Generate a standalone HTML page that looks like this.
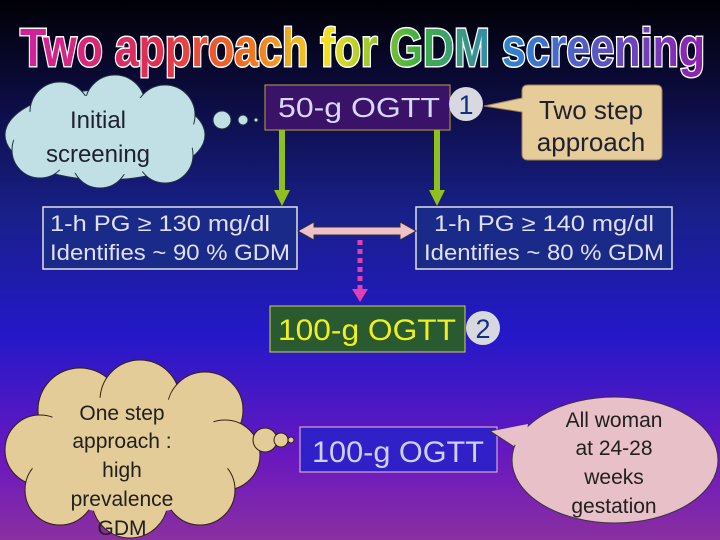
<!DOCTYPE html>
<html><head><meta charset="utf-8"><style>
html,body{margin:0;padding:0;width:720px;height:540px;overflow:hidden}
svg{display:block}
</style></head><body>
<svg width="720" height="540" viewBox="0 0 720 540" xmlns="http://www.w3.org/2000/svg" font-family="Liberation Sans, sans-serif">
<defs>
<linearGradient id="bg" x1="0" y1="0" x2="0" y2="1">
<stop offset="0" stop-color="#000005"/>
<stop offset="0.18" stop-color="#0c0c40"/>
<stop offset="0.4" stop-color="#18208a"/>
<stop offset="0.62" stop-color="#2418c8"/>
<stop offset="0.85" stop-color="#6a18c0"/>
<stop offset="1" stop-color="#8a30a0"/>
</linearGradient>
<linearGradient id="title" x1="0" y1="0" x2="1" y2="0">
<stop offset="0" stop-color="#d020a0"/>
<stop offset="0.2" stop-color="#e03050"/>
<stop offset="0.33" stop-color="#f07020"/>
<stop offset="0.45" stop-color="#f0e020"/>
<stop offset="0.58" stop-color="#40b040"/>
<stop offset="0.72" stop-color="#3080d0"/>
<stop offset="1" stop-color="#9020b0"/>
</linearGradient>
</defs>
<rect width="720" height="540" fill="url(#bg)"/>
<text x="20" y="66" font-size="54" font-weight="bold" textLength="685" lengthAdjust="spacingAndGlyphs" fill="url(#title)" stroke="#ffffff" stroke-width="3" paint-order="stroke">Two approach for GDM screening</text>

<!-- Initial screening cloud -->
<g fill="#c0e0e6" stroke="#203040" stroke-width="1">
<ellipse cx="105" cy="135" rx="100" ry="45"/>
<circle cx="60" cy="112" r="30"/><circle cx="115" cy="105" r="30"/><circle cx="165" cy="115" r="30"/>
<circle cx="40" cy="150" r="28"/><circle cx="100" cy="160" r="28"/><circle cx="165" cy="155" r="28"/>
<circle cx="222" cy="120" r="9"/><circle cx="243" cy="120" r="5"/><circle cx="256" cy="120" r="2"/>
</g>
<ellipse cx="105" cy="135" rx="92" ry="40" fill="#c0e0e6"/>
<text x="98" y="128" font-size="24" fill="#202030" text-anchor="middle">Initial</text>
<text x="98" y="162" font-size="24" fill="#202030" text-anchor="middle">screening</text>

<!-- 50-g OGTT -->
<rect x="265" y="85" width="185" height="45" fill="#3a1268" stroke="#c0a040" stroke-width="1"/>
<text x="359" y="117" font-size="28" fill="#d8d8ff" text-anchor="middle" textLength="162" lengthAdjust="spacingAndGlyphs">50-g OGTT</text>
<circle cx="466" cy="104" r="17" fill="#d8d8e0"/>
<text x="466" y="114" font-size="27" fill="#103080" text-anchor="middle">1</text>

<!-- Two step callout -->
<path d="M528 85 H656 Q662 85 662 91 V154 Q662 160 656 160 H528 Q522 160 522 154 V112 L484 106 L522 98 V91 Q522 85 528 85Z" fill="#e6cc98" stroke="#a08050"/>
<text x="591" y="119" font-size="26" fill="#202030" text-anchor="middle">Two step</text>
<text x="591" y="151" font-size="26" fill="#202030" text-anchor="middle">approach</text>

<!-- green arrows -->
<g fill="#90c020">
<rect x="279" y="130" width="6" height="62"/><polygon points="274,190 290,190 282,206"/>
<rect x="434" y="130" width="6" height="62"/><polygon points="429,190 445,190 437,206"/>
</g>

<!-- PG boxes -->
<rect x="43" y="207" width="254" height="62" fill="#1a2a88" stroke="#e0e0e0" stroke-width="1.5"/>
<text x="50" y="231" font-size="22" fill="#e0e0f0" textLength="220" lengthAdjust="spacingAndGlyphs">1-h PG ≥ 130 mg/dl</text>
<text x="50" y="260" font-size="22" fill="#e0e0f0" textLength="240" lengthAdjust="spacingAndGlyphs">Identifies ~ 90 % GDM</text>
<rect x="416" y="207" width="256" height="62" fill="#1a2a88" stroke="#e0e0e0" stroke-width="1.5"/>
<text x="544" y="231" font-size="22" fill="#e0e0f0" text-anchor="middle" textLength="220" lengthAdjust="spacingAndGlyphs">1-h PG ≥ 140 mg/dl</text>
<text x="544" y="260" font-size="22" fill="#e0e0f0" text-anchor="middle" textLength="240" lengthAdjust="spacingAndGlyphs">Identifies ~ 80 % GDM</text>

<!-- double arrow -->
<polygon points="298,231 314,222 314,227 400,227 400,222 416,231 400,240 400,235 314,235 314,240" fill="#f0c0c8" stroke="#303030"/>
<!-- dotted arrow -->
<line x1="360" y1="240" x2="360" y2="290" stroke="#e040b0" stroke-width="5" stroke-dasharray="5,4"/>
<polygon points="352,289 368,289 360,302" fill="#e040b0"/>

<!-- 100-g OGTT green -->
<rect x="270" y="306" width="195" height="46" fill="#2a5a30" stroke="#d0d060"/>
<text x="367" y="340" font-size="30" fill="#f0f020" text-anchor="middle" textLength="178" lengthAdjust="spacingAndGlyphs">100-g OGTT</text>
<circle cx="483" cy="328" r="17" fill="#d8d8e0"/>
<text x="483" y="338" font-size="27" fill="#103080" text-anchor="middle">2</text>

<!-- bottom-left tan cloud -->
<g fill="#e4cc98" stroke="#302010" stroke-width="1">
<circle cx="80" cy="410" r="42"/><circle cx="140" cy="400" r="40"/><circle cx="205" cy="410" r="38"/>
<circle cx="40" cy="450" r="35"/><circle cx="225" cy="455" r="35"/>
<circle cx="60" cy="490" r="35"/><circle cx="130" cy="500" r="38"/><circle cx="200" cy="490" r="35"/>
<circle cx="265" cy="440" r="12"/><circle cx="281" cy="440" r="7"/><circle cx="291" cy="440" r="3"/>
</g>
<ellipse cx="130" cy="455" rx="100" ry="60" fill="#e4cc98"/>
<g font-size="21" fill="#202020" text-anchor="middle">
<text x="122" y="420">One step</text>
<text x="122" y="448">approach :</text>
<text x="122" y="477">high</text>
<text x="122" y="506">prevalence</text>
<text x="122" y="535">GDM</text>
</g>

<!-- 100-g OGTT blue -->
<rect x="300" y="427" width="197" height="45" fill="#3020c8" stroke="#f0c0d0"/>
<text x="398" y="462" font-size="30" fill="#d0d0ff" text-anchor="middle" textLength="172" lengthAdjust="spacingAndGlyphs">100-g OGTT</text>

<!-- pink oval -->
<path d="M530 425 L490 431 L522 452Z" fill="#e8c0c8" stroke="#403040"/>
<ellipse cx="615" cy="460" rx="103" ry="63" fill="#e8c0c8" stroke="#403040"/>
<path d="M528 424 L492 431 L524 450Z" fill="#e8c0c8"/>
<g font-size="21" fill="#202020" text-anchor="middle">
<text x="614" y="427">All woman</text>
<text x="614" y="455">at 24-28</text>
<text x="614" y="484">weeks</text>
<text x="614" y="513">gestation</text>
</g>
</svg>
</body></html>
